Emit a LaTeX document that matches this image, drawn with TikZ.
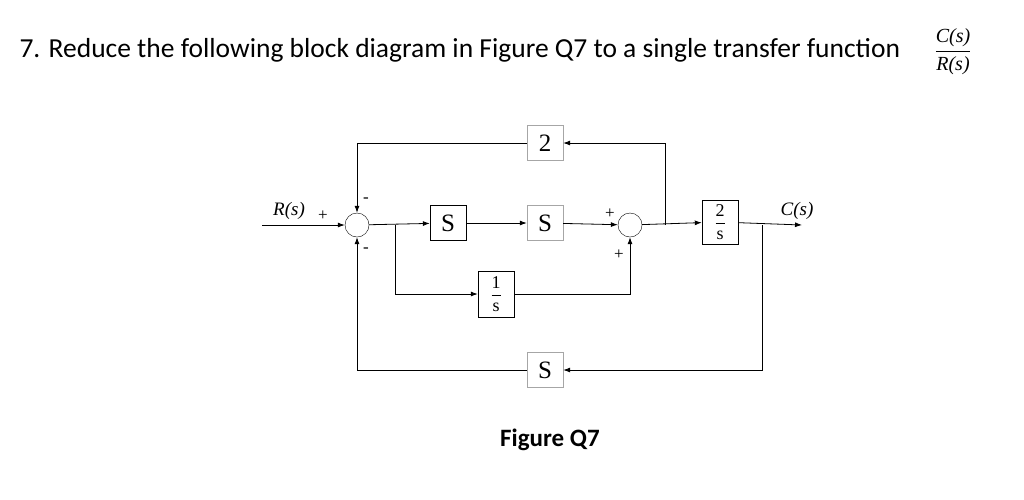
\documentclass[tikz,border=0pt]{standalone}
\usepackage{amsmath}
\usepackage{fontspec}
\setmainfont{Carlito}
\newfontfamily\tms{Liberation Serif}
\usetikzlibrary{arrows.meta}
\tikzset{
  blk/.style={draw, minimum width=36pt, minimum height=35pt, inner sep=0pt, font=\tms\fontsize{25}{27}\selectfont},
  faint/.style={draw=black!35},
  sum/.style={draw, circle, minimum size=24pt, inner sep=0pt},
  sig/.style={-{Latex[length=7pt,width=5pt]}, line width=0.8pt},
  lbl/.style={font=\tms\itshape\fontsize{19}{21}\selectfont},
  sgn/.style={font=\tms\fontsize{17}{19}\selectfont}
}
\begin{document}
\begin{tikzpicture}[x=1pt,y=-1pt]
\useasboundingbox (0,0) rectangle (1024,499);
\node[anchor=west, font=\fontsize{27.5}{30}\selectfont] (title) at (16,50) {7. Reduce the following block diagram in Figure Q7 to a single transfer function};
\node[font=\fontsize{20}{22}\selectfont] (tf) at (953,52) {$\dfrac{\text{\tms\itshape C(s)}}{\text{\tms\itshape R(s)}}$};

\coordinate (in) at (262,225);
\node[sum] (s1) at (357,225) {};
\node[blk] (g1) at (448,223) {S};
\node[blk, faint, text=black] (g2) at (545,223) {S};
\node[sum] (s2) at (630,225) {};
\node[blk, minimum height=44pt, font=\fontsize{18}{20}\selectfont] (g3) at (720,222) {$\dfrac{\text{\tms 2}}{\text{\tms s}}$};
\coordinate (out) at (802,225);
\node[blk, faint] (h1) at (545,143) {2};
\node[blk, minimum height=46pt, font=\fontsize{18}{20}\selectfont] (g4) at (496,294) {$\dfrac{\text{\tms 1}}{\text{\tms s}}$};
\node[blk, faint] (h2) at (545,370) {S};

\coordinate (b1) at (395,225);
\coordinate (b2) at (665,225);
\coordinate (b3) at (762,225);

\draw[sig] (in) -- (s1);
\draw[sig] (s1) -- (g1);
\draw[sig] (g1) -- (g2);
\draw[sig] (g2) -- (s2);
\draw[sig] (s2) -- (g3);
\draw[sig] (g3) -- (out);
\draw[sig] (b1) |- (g4);
\draw[sig] (g4) -| (s2);
\draw[sig] (b2) |- (h1);
\draw[sig] (h1) -| (s1);
\draw[sig] (b3) |- (h2);
\draw[sig] (h2) -| (s1);

\node[lbl] (rl) at (289,211) {R(s)};
\node[lbl] (cl) at (797,211) {C(s)};
\node[sgn] at (323,216) {+};
\node[sgn] at (366,200) {-};
\node[sgn] at (366,250) {-};
\node[sgn] at (610,214) {+};
\node[sgn] at (619,255) {+};

\node[font=\bfseries\fontsize{25}{28}\selectfont] (fig) at (550,440) {Figure Q7};
\end{tikzpicture}
\end{document}
